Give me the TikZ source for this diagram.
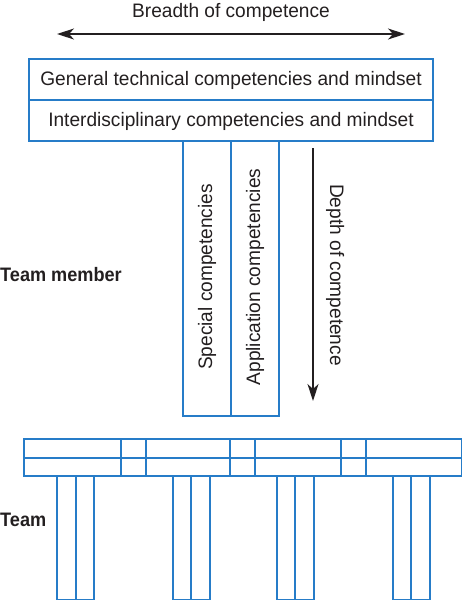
\documentclass[tikz,border=0pt]{standalone}
\usepackage{fontspec}
\setmainfont{Liberation Sans}[FakeStretch=0.98,BoldFeatures={FakeStretch=0.93}]
\usetikzlibrary{positioning,arrows.meta}
\definecolor{lineblue}{RGB}{38,124,200}
\definecolor{textgrey}{RGB}{35,31,32}

\begin{document}
\begin{tikzpicture}[
  x=1pt,y=-1pt,
  color=textgrey,
  >={Stealth[length=17pt,width=11pt,inset=5pt]},
  box/.style={draw=lineblue,line width=1.2pt},
  lbl/.style={font=\fontsize{19.5}{22}\selectfont,inner sep=0pt,anchor=base},
  side/.style={font=\fontsize{19.5}{22}\selectfont\bfseries,inner sep=0pt,anchor=base west},
  dir/.style={line width=1.3pt},
  ]
  \useasboundingbox (0,0) rectangle (462,600);

  % team member
  \draw[box] (29,59) rectangle (433,141);
  \draw[box] (29,100) -- (433,100);
  \draw[box] (183,141) rectangle (279,416);
  \draw[box] (231,141) -- (231,416);

  \node[lbl] (breadth) at (231,17) {Breadth of competence};
  \node[lbl] (general) at (231,85) {General technical competencies and mindset};
  \node[lbl] (interdisc) at (231,126) {Interdisciplinary competencies and mindset};
  \node[lbl,rotate=90] (special) at (212,277) {Special competencies};
  \node[lbl,rotate=90] (application) at (260,277) {Application competencies};
  \node[lbl,rotate=-90] (depth) at (330,275) {Depth of competence};
  \node[side] (member) at (0,281) {Team member};

  \coordinate (bl) at (57,34);
  \coordinate (br) at (405,34);
  \coordinate (dt) at (313,148);
  \coordinate (db) at (313,401);
  \draw[dir,<->] (bl) -- (br);
  \draw[dir,->] (dt) -- (db);

  % team
  \draw[box] (24,439) rectangle (462,476);
  \draw[box] (24,458) -- (462,458);
  \foreach \x in {121,146,230,255,341,366}
    \draw[box] (\x,439) -- (\x,476);
  \foreach \x/\m in {57/76,173/191,277/295,393/411}
    \draw[box] (\x,476) rectangle (\x+37,600) (\m,476) -- (\m,600);
  \node[side] (team) at (0,526) {Team};

\end{tikzpicture}
\end{document}
